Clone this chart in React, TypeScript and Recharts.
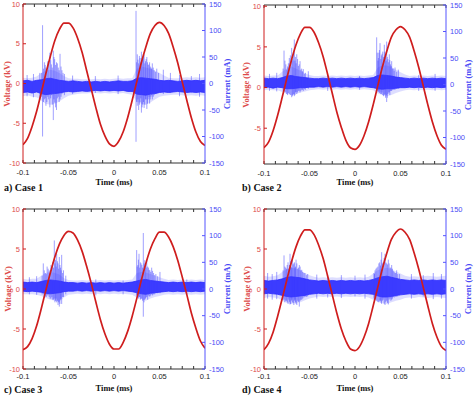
import React from 'react'
import { ComposedChart, Line, Area, Scatter, ErrorBar, XAxis, YAxis } from 'recharts'

// sample times (ms) for the voltage trace and the current noise band
const time = [
  -0.1, -0.095, -0.09, -0.085, -0.08, -0.075, -0.07, -0.065, -0.06, -0.055, -0.05,
  -0.045, -0.04, -0.035, -0.03, -0.025, -0.02, -0.015, -0.01, -0.005, 0,
  0.005, 0.01, 0.015, 0.02, 0.025, 0.03, 0.035, 0.04, 0.045, 0.05,
  0.055, 0.06, 0.065, 0.07, 0.075, 0.08, 0.085, 0.09, 0.095, 0.1,
]

const xTicks = [
  -0.1, -0.0875, -0.075, -0.0625, -0.05, -0.0375, -0.025, -0.0125, 0,
  0.0125, 0.025, 0.0375, 0.05, 0.0625, 0.075, 0.0875, 0.1,
]
const xMajor = [-0.1, -0.05, 0, 0.05, 0.1]
const xLabels = ['-0.1', '-0.05', '0', '0.05', '0.1']
const voltTicks = [-10, -5, 0, 5, 10]
const voltTicksB = [-5, 0, 5, 10]
const currentTicks = [-150, -100, -50, 0, 50, 100, 150]

// voltage (kV)
const voltageA = [-7.7, -6.9, -5.4, -3.5, -1.2, 1.2, 3.4, 5.4, 6.8, 7.6, 7.6, 7.0, 5.7, 3.9, 1.6, -0.7, -3.0, -5.1, -6.6, -7.6, -7.9, -7.3, -6.1, -4.3, -2.1, 0.2, 2.6, 4.6, 6.3, 7.3, 7.7, 7.3, 6.3, 4.6, 2.6, 0.2, -2.1, -4.3, -6.1, -7.3, -7.8]
const voltageB = [-7.4, -6.7, -5.3, -3.4, -1.2, 1.1, 3.3, 5.2, 6.6, 7.4, 7.4, 6.8, 5.5, 3.8, 1.6, -0.7, -3.0, -4.9, -6.5, -7.4, -7.6, -7.1, -5.9, -4.2, -2.1, 0.2, 2.5, 4.5, 6.2, 7.1, 7.5, 7.1, 6.2, 4.5, 2.5, 0.2, -2.1, -4.2, -5.9, -7.1, -7.6]
const voltageC = [-7.6, -7.2, -6.2, -4.6, -2.5, -0.2, 2.0, 4.0, 5.6, 6.7, 7.2, 7.0, 6.1, 4.7, 2.8, 0.7, -1.6, -3.8, -5.6, -6.9, -7.5, -7.5, -6.7, -5.3, -3.4, -1.2, 1.1, 3.2, 5.0, 6.3, 7.1, 7.1, 6.5, 5.3, 3.6, 1.5, -0.7, -3.0, -4.9, -6.5, -7.4]
const voltageD = [-7.6, -6.8, -5.4, -3.4, -1.2, 1.1, 3.3, 5.2, 6.6, 7.4, 7.4, 6.8, 5.5, 3.8, 1.6, -0.7, -3.0, -5.0, -6.5, -7.5, -7.7, -7.2, -6.0, -4.3, -2.1, 0.2, 2.5, 4.5, 6.2, 7.1, 7.5, 7.1, 6.2, 4.5, 2.5, 0.2, -2.1, -4.3, -6.0, -7.2, -7.7]

// current (mA): dense noise band (core) and its lighter fringe (halo)
const coreLoA = [-17, -16, -18, -16, -19, -21, -20, -19, -18, -16, -15, -16, -15, -14, -15, -14, -13, -14, -13, -14, -13, -14, -13, -15, -15, -20, -21, -22, -20, -19, -17, -16, -17, -16, -15, -16, -17, -16, -17, -16, -17]
const coreHiA = [5, 6, 4, 6, 7, 9, 10, 8, 6, 5, 4, 5, 4, 3, 4, 3, 4, 3, 4, 3, 4, 5, 4, 4, 5, 10, 11, 10, 9, 8, 6, 5, 6, 5, 4, 5, 6, 5, 6, 5, 6]
const haloLoA = [-24, -22, -25, -26, -32, -38, -40, -38, -34, -28, -23, -21, -20, -19, -19, -18, -18, -19, -18, -19, -18, -19, -18, -20, -21, -34, -38, -40, -36, -30, -25, -23, -22, -21, -21, -22, -23, -22, -23, -22, -23]
const haloHiA = [11, 10, 11, 13, 20, 24, 26, 24, 20, 14, 10, 9, 9, 8, 8, 8, 9, 8, 9, 8, 9, 10, 9, 10, 10, 28, 32, 30, 28, 24, 20, 15, 11, 10, 10, 11, 12, 11, 12, 11, 12]

const coreLoB = [-6, -5, -7, -5, -6, -8, -8, -7, -6, -6, -5, -5, -4, -5, -4, -5, -4, -5, -4, -5, -4, -5, -4, -5, -6, -8, -9, -8, -8, -7, -6, -6, -5, -6, -5, -6, -5, -6, -5, -6, -5]
const coreHiB = [12, 11, 12, 11, 13, 16, 17, 15, 14, 13, 12, 11, 11, 12, 11, 12, 11, 12, 11, 12, 11, 12, 11, 12, 13, 17, 18, 17, 16, 14, 13, 12, 11, 12, 11, 12, 11, 12, 11, 12, 11]
const haloLoB = [-11, -10, -11, -11, -14, -18, -20, -18, -15, -13, -11, -10, -9, -10, -9, -10, -9, -10, -9, -10, -9, -10, -9, -10, -11, -17, -20, -22, -20, -16, -13, -11, -10, -11, -10, -11, -10, -11, -10, -11, -10]
const haloHiB = [17, 16, 17, 17, 24, 30, 34, 30, 26, 21, 18, 16, 16, 17, 16, 17, 16, 17, 16, 17, 16, 17, 16, 17, 18, 32, 36, 36, 33, 28, 23, 19, 16, 17, 16, 17, 16, 17, 16, 17, 16]

const coreLoC = [-4, -5, -4, -5, -6, -8, -9, -8, -7, -5, -4, -4, -3, -4, -3, -4, -3, -4, -3, -4, -3, -4, -3, -4, -5, -7, -9, -10, -8, -7, -6, -5, -4, -5, -4, -5, -4, -5, -4, -5, -4]
const coreHiC = [13, 12, 13, 12, 14, 16, 17, 16, 15, 13, 12, 12, 11, 12, 11, 12, 11, 12, 11, 12, 11, 12, 11, 12, 13, 15, 17, 18, 16, 15, 14, 13, 12, 13, 12, 13, 12, 13, 12, 13, 12]
const haloLoC = [-10, -10, -10, -11, -13, -17, -20, -22, -24, -16, -11, -10, -9, -10, -9, -10, -9, -10, -9, -10, -9, -10, -9, -10, -11, -16, -19, -22, -18, -15, -13, -11, -10, -11, -10, -11, -10, -11, -10, -11, -10]
const haloHiC = [19, 18, 19, 19, 25, 30, 32, 30, 27, 20, 17, 16, 16, 17, 16, 17, 16, 17, 16, 17, 16, 17, 16, 17, 18, 30, 32, 31, 28, 25, 22, 19, 17, 18, 17, 18, 17, 18, 17, 18, 17]

const coreLoD = [-9, -8, -9, -10, -12, -14, -15, -14, -13, -12, -10, -9, -8, -9, -8, -9, -8, -9, -8, -9, -8, -9, -8, -9, -10, -13, -15, -15, -14, -12, -11, -10, -9, -10, -9, -10, -9, -10, -9, -10, -9]
const coreHiD = [16, 15, 16, 17, 19, 22, 23, 22, 21, 19, 17, 16, 15, 16, 15, 16, 15, 16, 15, 16, 15, 16, 15, 16, 18, 21, 23, 24, 22, 20, 18, 17, 16, 17, 16, 17, 16, 17, 16, 17, 16]
const haloLoD = [-17, -15, -16, -17, -22, -26, -28, -26, -25, -21, -18, -16, -14, -15, -14, -15, -14, -15, -14, -15, -14, -15, -14, -16, -20, -24, -26, -28, -25, -22, -20, -17, -16, -17, -15, -16, -17, -16, -15, -16, -17]
const haloHiD = [25, 23, 24, 26, 32, 37, 40, 38, 35, 30, 26, 23, 21, 22, 21, 22, 21, 22, 21, 22, 21, 22, 21, 23, 29, 35, 38, 40, 37, 33, 29, 25, 23, 24, 23, 24, 25, 24, 23, 24, 25]

// discharge spikes: [time, min, max]
const spikesA = [
  [-0.0955, -24, 16], [-0.0885, -26, 18], [-0.0815, -28, 20],
  [-0.0795, -25, 20], [-0.0785, -100, 110], [-0.0775, -35, 28], [-0.0765, -30, 40], [-0.0756, -28, 35],
  [-0.0748, -42, 30], [-0.0738, -35, 25], [-0.0728, -25, 42], [-0.0718, -30, 38], [-0.0705, -45, 58],
  [-0.0696, -28, 44], [-0.0688, -22, 36], [-0.0678, -40, 30], [-0.0667, -69, 62], [-0.066, -30, 50],
  [-0.0652, -36, 46], [-0.0642, -45, 35], [-0.0632, -50, 40], [-0.0622, -28, 38], [-0.0612, -25, 30],
  [-0.0603, -35, 25], [-0.0593, -30, 56], [-0.0582, -25, 32], [-0.0572, -20, 25], [-0.056, -18, 20],
  [-0.0545, -22, 18], [-0.0455, -20, 15], [-0.0205, -18, 14], [0.0045, -20, 15],
  [0.0242, -110, 137], [0.0249, -35, 40], [0.0256, -42, 55], [0.0263, -30, 45], [0.0271, -50, 38],
  [0.0279, -40, 52], [0.0287, -35, 48], [0.0294, -28, 40], [0.0301, -55, 60], [0.0309, -45, 48],
  [0.0316, -40, 46], [0.0324, -35, 52], [0.0331, -46, 55], [0.0339, -40, 38], [0.0346, -30, 42],
  [0.0353, -30, 46], [0.0361, -48, 50], [0.0368, -38, 40], [0.0376, -30, 35], [0.0384, -25, 36],
  [0.0391, -38, 40], [0.0398, -30, 32], [0.0406, -25, 30], [0.0413, -22, 28], [0.0421, -30, 38],
  [0.0431, -25, 30], [0.0441, -22, 25], [0.0455, -20, 22], [0.047, -20, 28], [0.049, -18, 20],
  [0.0542, -20, 26], [0.062, -18, 20], [0.072, -24, 16], [0.085, -18, 14], [0.094, -25, 18],
]
const spikesB = [
  [-0.094, -12, 20], [-0.086, -13, 22],
  [-0.079, -12, 30], [-0.078, -12, 64], [-0.077, -14, 45], [-0.076, -15, 38], [-0.0751, -18, 28],
  [-0.0742, -20, 34], [-0.0732, -16, 40], [-0.0722, -18, 50], [-0.071, -20, 55], [-0.0696, -24, 69],
  [-0.0689, -22, 48], [-0.0682, -20, 45], [-0.0674, -18, 60], [-0.0667, -22, 85], [-0.066, -20, 45],
  [-0.0653, -15, 52], [-0.0647, -14, 40], [-0.064, -18, 57], [-0.0631, -15, 48], [-0.0622, -12, 35],
  [-0.0613, -12, 38], [-0.0604, -15, 44], [-0.0595, -12, 28], [-0.0586, -10, 30], [-0.0577, -10, 25],
  [-0.0568, -12, 29], [-0.0556, -9, 20], [-0.0545, -10, 22], [-0.0513, -8, 25], [-0.03, -12, 18],
  [0.005, -10, 16], [0.0238, -15, 89], [0.0245, -12, 60], [0.0252, -10, 45], [0.0257, -14, 50],
  [0.0262, -12, 60], [0.0268, -16, 65], [0.0275, -15, 78], [0.0283, -18, 48], [0.029, -18, 55],
  [0.0297, -15, 58], [0.0305, -20, 62], [0.0313, -22, 52], [0.0322, -20, 75], [0.0328, -18, 62],
  [0.0335, -25, 50], [0.0342, -20, 45], [0.0348, -33, 81], [0.0355, -25, 52], [0.0362, -18, 48],
  [0.037, -15, 42], [0.0377, -15, 57], [0.0383, -20, 46], [0.039, -12, 38], [0.0397, -12, 35],
  [0.0403, -12, 44], [0.0411, -10, 30], [0.042, -10, 30], [0.043, -10, 26], [0.044, -10, 32],
  [0.0458, -8, 24], [0.0476, -8, 28], [0.07, -12, 18], [0.088, -12, 20],
]
const spikesC = [
  [-0.093, -10, 22], [-0.085, -11, 24],
  [-0.079, -10, 25], [-0.0777, -10, 48], [-0.0766, -12, 35], [-0.0755, -14, 30], [-0.0745, -15, 28],
  [-0.0735, -12, 42], [-0.0724, -12, 38], [-0.0712, -15, 35], [-0.0702, -18, 30], [-0.0692, -18, 45],
  [-0.0683, -15, 42], [-0.0674, -20, 50], [-0.0665, -20, 40], [-0.0656, -18, 91], [-0.0649, -25, 48],
  [-0.0643, -22, 55], [-0.0636, -18, 42], [-0.063, -25, 66], [-0.0622, -22, 52], [-0.0615, -30, 48],
  [-0.0608, -25, 38], [-0.0601, -33, 60], [-0.0594, -28, 45], [-0.0588, -20, 40], [-0.0581, -18, 35],
  [-0.0575, -28, 64], [-0.0565, -15, 30], [-0.0555, -15, 35], [-0.053, -10, 25], [-0.02, -12, 18],
  [0.01, -10, 16], [0.0249, -12, 73], [0.0255, -12, 42], [0.0262, -14, 45], [0.0268, -18, 55],
  [0.0275, -15, 66], [0.0282, -15, 40], [0.029, -20, 50], [0.0298, -18, 48], [0.0306, -18, 45],
  [0.0314, -22, 40], [0.0322, -52, 105], [0.033, -25, 48], [0.0338, -20, 54], [0.0345, -18, 44],
  [0.0352, -16, 40], [0.036, -15, 54], [0.037, -20, 42], [0.0378, -12, 40], [0.0386, -14, 36],
  [0.0395, -14, 35], [0.0404, -12, 32], [0.0414, -10, 40], [0.0424, -12, 34], [0.0435, -10, 30],
  [0.0447, -10, 26], [0.046, -8, 28], [0.048, -8, 24], [0.0505, -8, 32], [0.08, -10, 18],
]
const spikesD = [
  [-0.096, -18, 30], [-0.091, -20, 28], [-0.086, -19, 32],
  [-0.079, -20, 35], [-0.078, -20, 63], [-0.0771, -25, 42], [-0.0762, -22, 40], [-0.0753, -22, 38],
  [-0.0745, -25, 45], [-0.0736, -28, 50], [-0.0728, -20, 38], [-0.072, -24, 45], [-0.0714, -29, 66],
  [-0.0707, -28, 52], [-0.07, -22, 42], [-0.0694, -20, 40], [-0.0689, -25, 55], [-0.068, -26, 46],
  [-0.0672, -30, 48], [-0.0666, -22, 50], [-0.066, -20, 40], [-0.0654, -25, 42], [-0.0648, -28, 55],
  [-0.0639, -30, 48], [-0.063, -22, 38], [-0.0621, -24, 40], [-0.0612, -33, 45], [-0.0603, -22, 42],
  [-0.0595, -20, 35], [-0.0585, -20, 36], [-0.0575, -18, 32], [-0.0562, -16, 30], [-0.055, -15, 30],
  [-0.0535, -15, 26], [-0.052, -14, 28], [-0.042, -18, 27], [-0.03, -16, 26], [-0.015, -17, 26],
  [0, -14, 25], [0.011, -18, 27], [0.0208, -18, 30], [0.0214, -16, 28], [0.022, -20, 35],
  [0.023, -20, 38], [0.024, -22, 40], [0.0251, -24, 42], [0.0262, -25, 48], [0.0271, -22, 50],
  [0.028, -22, 44], [0.0286, -26, 55], [0.0293, -28, 69], [0.0301, -22, 48], [0.031, -20, 50],
  [0.032, -28, 58], [0.033, -30, 66], [0.0339, -24, 50], [0.0348, -22, 48], [0.0357, -26, 46],
  [0.0366, -29, 55], [0.0375, -20, 48], [0.0385, -18, 40], [0.0394, -22, 40], [0.0403, -20, 45],
  [0.0411, -18, 38], [0.042, -15, 34], [0.043, -16, 32], [0.044, -14, 30], [0.0449, -15, 30],
  [0.0458, -14, 35], [0.047, -14, 28], [0.049, -12, 28], [0.062, -18, 28], [0.075, -14, 26],
  [0.086, -19, 30], [0.095, -18, 28],
]

const RED = '#cf1d1d'
const RED_TEXT = '#dd4a48'
const BLUE = '#2a2aff'
const BLUE_TEXT = '#4b4bf5'
const SANS = 'Liberation Sans, Arial, sans-serif'
const SERIF = 'Liberation Serif, Times New Roman, serif'

const fmtTime = (v: number) => {
  const i = xMajor.findIndex((m) => Math.abs(m - v) < 1e-9)
  return i >= 0 ? xLabels[i] : ''
}

const NoDot = () => <g />

function Panel(props: any) {
  const { x, y, w, h, box, voltage, voltDomain, vTicks, coreLo, coreHi, haloLo, haloHi, spikes, caseLabel, titles, xTickMargin } = props
  const rows = time.map((t, i) => ({ t, v: voltage[i], core: [coreLo[i], coreHi[i]], halo: [haloLo[i], haloHi[i]] }))
  // each spike is drawn as a vertical error bar hanging from its maximum down to its minimum
  const spikeRows = spikes.map((s: number[]) => ({ t: s[0], top: s[2], span: [s[2] - s[1], 0] }))

  const titleStyle = {
    position: 'absolute' as const,
    fontFamily: SERIF,
    fontWeight: 'bold' as const,
    fontSize: 8.5,
    whiteSpace: 'nowrap' as const,
    transform: 'translate(-50%, -50%)',
    lineHeight: 1,
  }

  return (
    <div style={{ position: 'absolute', left: x, top: y, width: w, height: h }}>
      <ComposedChart width={w} height={h} data={rows} margin={{ top: box.t - 1, right: 0, bottom: 0, left: 0 }}>
        <XAxis
          xAxisId="b"
          dataKey="t"
          type="number"
          domain={[-0.1, 0.1]}
          ticks={xTicks}
          interval={0}
          tickFormatter={fmtTime}
          height={h - box.b}
          stroke="#333"
          tickSize={-3}
          tickMargin={xTickMargin}
          tick={{ fontSize: 7.5, fill: '#222', fontFamily: SANS }}
          allowDataOverflow
        />
        <XAxis
          xAxisId="t"
          orientation="top"
          dataKey="t"
          type="number"
          domain={[-0.1, 0.1]}
          ticks={xTicks}
          interval={0}
          tickFormatter={() => ''}
          height={1}
          stroke="#333"
          tickSize={-3}
          allowDataOverflow
        />
        <YAxis
          yAxisId="v"
          type="number"
          domain={voltDomain}
          ticks={vTicks}
          interval={0}
          width={box.l}
          stroke={RED}
          tickSize={-3}
          tickMargin={6}
          tick={{ fontSize: 7.5, fill: RED_TEXT, fontFamily: SANS }}
          allowDataOverflow
        />
        <YAxis
          yAxisId="c"
          orientation="right"
          type="number"
          domain={[-150, 150]}
          ticks={currentTicks}
          interval={0}
          width={w - box.r}
          stroke="#5555ff"
          tickSize={-3}
          tickMargin={7}
          tick={{ fontSize: 7.5, fill: BLUE_TEXT, fontFamily: SANS }}
          allowDataOverflow
        />
        <Area xAxisId="b" yAxisId="c" dataKey="halo" type="linear" stroke="none" fill={BLUE} fillOpacity={0.16} isAnimationActive={false} />
        <Scatter xAxisId="b" yAxisId="c" data={spikeRows} dataKey="top" shape={NoDot} isAnimationActive={false}>
          <ErrorBar dataKey="span" direction="y" width={0} stroke="#3d3dff" strokeWidth={0.9} strokeOpacity={0.55} />
        </Scatter>
        <Area xAxisId="b" yAxisId="c" dataKey="core" type="linear" stroke={BLUE} strokeWidth={0.8} fill={BLUE} fillOpacity={0.9} isAnimationActive={false} />
        <Line xAxisId="b" yAxisId="v" dataKey="v" type="monotone" stroke={RED} strokeWidth={1.7} dot={false} isAnimationActive={false} />
      </ComposedChart>
      <div style={{ ...titleStyle, left: titles.vx, top: titles.cy, color: RED_TEXT, transform: 'translate(-50%, -50%) rotate(-90deg)' }}>Voltage (kV)</div>
      <div style={{ ...titleStyle, left: titles.cx, top: titles.cy, color: BLUE_TEXT, transform: 'translate(-50%, -50%) rotate(-90deg)' }}>Current (mA)</div>
      <div style={{ ...titleStyle, left: titles.tx, top: titles.ty, color: '#111' }}>Time (ms)</div>
      <div style={{ ...titleStyle, fontSize: 10, left: titles.lx, top: titles.ly, color: '#111', transform: 'translate(0, -50%)' }}>{caseLabel}</div>
    </div>
  )
}

export default function App() {
  return (
    <div style={{ position: 'absolute', left: 0, top: 0, width: 474, height: 395, background: '#fff' }}>
      <Panel
        x={0} y={0} w={237} h={197} xTickMargin={10}
        box={{ l: 23, r: 205, t: 4, b: 163 }}
        voltage={voltageA} voltDomain={[-10, 10]} vTicks={voltTicks}
        coreLo={coreLoA} coreHi={coreHiA} haloLo={haloLoA} haloHi={haloHiA} spikes={spikesA}
        caseLabel="a) Case 1"
        titles={{ vx: 7, cx: 227, cy: 84, tx: 114, ty: 182, lx: 4, ly: 188 }}
      />
      <Panel
        x={237} y={0} w={237} h={197} xTickMargin={10}
        box={{ l: 27, r: 209, t: 5, b: 164 }}
        voltage={voltageB} voltDomain={[-9.4, 10.15]} vTicks={voltTicksB}
        coreLo={coreLoB} coreHi={coreHiB} haloLo={haloLoB} haloHi={haloHiB} spikes={spikesB}
        caseLabel="b) Case 2"
        titles={{ vx: 8.5, cx: 231, cy: 85, tx: 118, ty: 182, lx: 5, ly: 188 }}
      />
      <Panel
        x={0} y={197} w={237} h={198} xTickMargin={8}
        box={{ l: 23, r: 205, t: 12, b: 172 }}
        voltage={voltageC} voltDomain={[-10, 10]} vTicks={voltTicks}
        coreLo={coreLoC} coreHi={coreHiC} haloLo={haloLoC} haloHi={haloHiC} spikes={spikesC}
        caseLabel="c) Case 3"
        titles={{ vx: 8, cx: 227, cy: 92, tx: 114, ty: 190.5, lx: 4, ly: 193 }}
      />
      <Panel
        x={237} y={197} w={237} h={198} xTickMargin={8}
        box={{ l: 27, r: 209, t: 12, b: 172 }}
        voltage={voltageD} voltDomain={[-10, 10]} vTicks={voltTicks}
        coreLo={coreLoD} coreHi={coreHiD} haloLo={haloLoD} haloHi={haloHiD} spikes={spikesD}
        caseLabel="d) Case 4"
        titles={{ vx: 10, cx: 231, cy: 92, tx: 118, ty: 190.5, lx: 5, ly: 193 }}
      />
    </div>
  )
}
